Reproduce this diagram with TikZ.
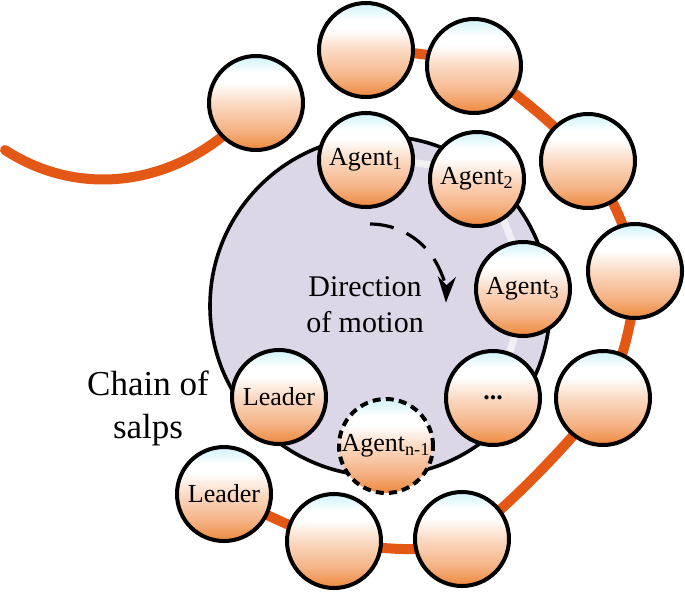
\documentclass[tikz,border=0pt]{standalone}
\usepackage{fontspec}
\setmainfont{Liberation Serif}
\usetikzlibrary{arrows.meta,backgrounds}

\definecolor{salpbottom}{RGB}{238,136,60}
\definecolor{salplow}{RGB}{245,180,135}
\definecolor{salpmid}{RGB}{251,218,195}
\definecolor{salptop}{RGB}{206,243,250}
\definecolor{chainorange}{RGB}{228,88,22}
\definecolor{foodzone}{RGB}{220,215,231}
\definecolor{trailgray}{RGB}{240,240,242}

\pgfdeclareverticalshading{salpshade}{100bp}{color(0bp)=(salpbottom); color(25bp)=(salpbottom); color(36bp)=(salplow); color(50bp)=(salpmid); color(61bp)=(white); color(66bp)=(white); color(75bp)=(salptop); color(100bp)=(salptop)}

\begin{document}
\begin{tikzpicture}[
    x=0.5pt, y=0.5pt,
    font=\fontsize{13}{15}\selectfont,
    salp/.style={circle, draw=black, line width=2pt, shading=salpshade, minimum size=47pt, inner sep=0pt},
    salpghost/.style={salp, dash pattern=on 4pt off 2.6pt},
    chain/.style={draw=chainorange, line width=5pt, line cap=round},
    trail/.style={draw=trailgray, line width=3.5pt}
  ]
    \useasboundingbox (0,0) rectangle (685,-591);

    % --- CADENA EXTERIOR (salps) ---
    \foreach \nm/\px/\py in {s1/256/103, s2/366/50, s3/474/66, s4/588/161, s5/635/271,
                             s6/603/398, s7/462/539, s8/334/541} {
        \node[salp] (\nm) at (\px,-\py) {};
    }
    \node[salp] (lead2) at (224,-494) {Leader};
    \coordinate (tail) at (5,-150);

    % --- AGENTES INTERIORES ---
    \node[salp] (a1) at (366,-160) {Agent\textsubscript{1}};
    \node[salp] (a2) at (477,-179) {Agent\textsubscript{2}};
    \node[salp] (a3) at (523,-289) {Agent\textsubscript{3}};
    \node[salp] (a4) at (493,-398) {\textbf{...}};
    \node[salpghost] (a5) at (386,-446) {Agent\textsubscript{n-1}};
    \node[salp] (lead1) at (279,-397) {Leader};

    % --- FONDO: zona, rastro y cadena ---
    \begin{scope}[on background layer]
        \draw[line width=1.8pt, fill=foodzone] (380,-306) circle[radius=170];
        \draw[trail] plot[smooth] coordinates {(a1.center) (a2.center) (a3.center) (a4.center)};
        \draw[chain] (tail) to[out=-33, in=231] (s1.center);
        \draw[chain] plot[smooth, tension=0.45] coordinates {(s2.center) (s3.center) (s4.center)
            (s5.center) (s6.center) (s7.center) (s8.center) (lead2.center)};
    \end{scope}

    % --- SENTIDO DE MOVIMIENTO ---
    \draw[line width=1.6pt, dash pattern=on 12pt off 7pt, -{Stealth[length=13pt, width=9pt]}]
        (370,-224) arc[start angle=90, end angle=-2, radius=76];
    \node[align=center, font=\fontsize{15}{18}\selectfont] (motion) at (365,-305) {Direction\\of motion};

    \node[align=center, font=\fontsize{17.5}{21.5}\selectfont] (chainlbl) at (148,-408) {Chain of\\salps};

\end{tikzpicture}
\end{document}
